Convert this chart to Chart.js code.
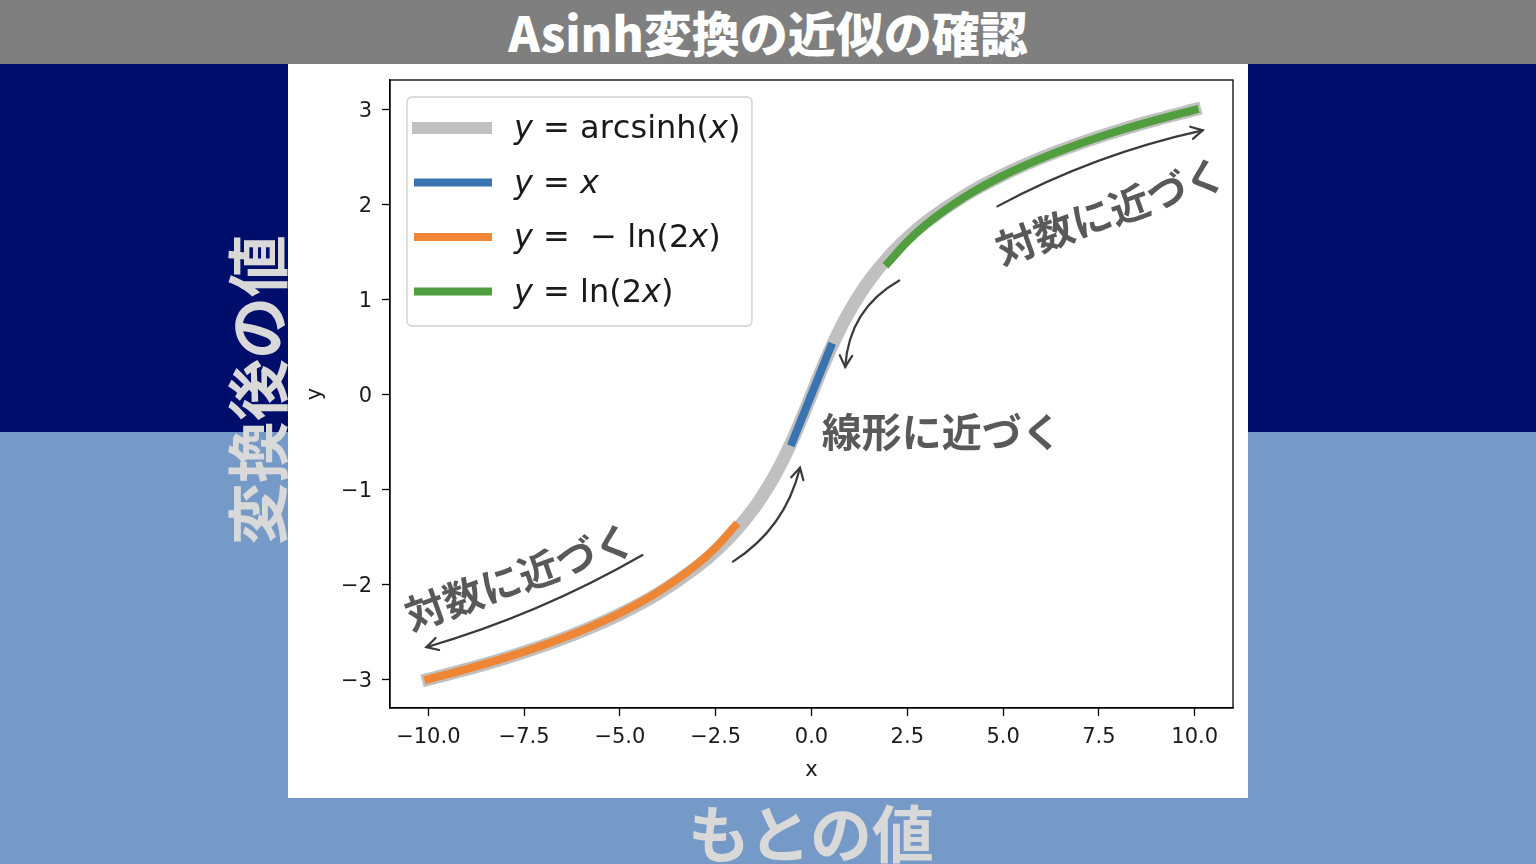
<html>
<head>
<meta charset="utf-8">
<title>Asinh変換の近似の確認</title>
<script src="https://cdn.jsdelivr.net/npm/chart.js@4"></script>
<style>
  body { margin: 0; width: 1536px; height: 864px; overflow: hidden; position: relative; background: #759ac7; font-family: "Noto Sans CJK JP", sans-serif; }
  .top-half { position: absolute; left: 0; top: 64px; width: 1536px; height: 368px; background: #000e6b; }
  .title-bar { position: absolute; left: 0; top: 0; width: 1536px; height: 64px; background: #7f7f7f; color: #fff; font-weight: 900; font-size: 48px; text-align: center; line-height: 62px; }
  .side-label { position: absolute; left: 255px; top: 390px; transform: translate(-50%, -50%) rotate(-90deg); color: #d9d9d9; font-size: 62px; font-weight: 700; white-space: nowrap; line-height: 1; }
  .bottom-label { position: absolute; left: 811px; top: 794px; transform: translateX(-50%); color: #d9d9d9; font-size: 62px; font-weight: 700; white-space: nowrap; line-height: 1.2; }
  .panel { position: absolute; left: 288px; top: 64px; width: 960px; height: 734px; background: #fff; }
</style>
</head>
<body>
  <div class="top-half"></div>
  <div class="title-bar">Asinh変換の近似の確認</div>
  <div class="side-label">変換後の値</div>
  <div class="bottom-label">もとの値</div>
  <div class="panel">
    <canvas id="chart" width="960" height="734"></canvas>
  </div>
<script>
  // y = arcsinh(x)
  const asinhX = [-10, -9, -8, -7, -6, -5, -4, -3, -2.5, -2, -1.5, -1.25, -1, -0.75, -0.5, -0.25, 0,
                  0.25, 0.5, 0.75, 1, 1.25, 1.5, 2, 2.5, 3, 4, 5, 6, 7, 8, 9, 10];
  const asinhY = [-2.998, -2.893, -2.776, -2.644, -2.492, -2.312, -2.095, -1.818, -1.647, -1.444, -1.195, -1.048, -0.881, -0.693, -0.481, -0.247, 0,
                  0.247, 0.481, 0.693, 0.881, 1.048, 1.195, 1.444, 1.647, 1.818, 2.095, 2.312, 2.492, 2.644, 2.776, 2.893, 2.998];

  // y = x
  const linearX = [-0.5, 0.5];
  const linearY = [-0.5, 0.5];

  // y = -ln(2x)
  const negLogX = [-10, -9, -8, -7, -6, -5, -4, -3, -2.5, -2];
  const negLogY = [-2.996, -2.890, -2.773, -2.639, -2.485, -2.303, -2.079, -1.792, -1.609, -1.386];

  // y = ln(2x)
  const posLogX = [2, 2.5, 3, 4, 5, 6, 7, 8, 9, 10];
  const posLogY = [1.386, 1.609, 1.792, 2.079, 2.303, 2.485, 2.639, 2.773, 2.890, 2.996];

  const seriesLabels = ['y = arcsinh(x)', 'y = x', 'y =  − ln(2x)', 'y = ln(2x)'];
  const seriesColors = ['#c0c0c0', '#3a74b0', '#ef8636', '#519e3e'];

  // 注釈 (データ座標)
  const notes = [
    { text: '対数に近づく', x: 7.8, y: 1.93, angle: -19.5, align: 'center' },
    { text: '線形に近づく', x: 0.27, y: -0.39, angle: 0, align: 'left' },
    { text: '対数に近づく', x: -7.62, y: -1.92, angle: -19.5, align: 'center' },
  ];
  const arrows = [
    { from: [4.85, 1.98], to: [10.21, 2.78], rad: 0.07 },
    { from: [2.29, 1.20], to: [0.88, 0.29], rad: -0.27 },
    { from: [-2.05, -1.76], to: [-0.30, -0.77], rad: -0.2 },
    { from: [-4.41, -1.69], to: [-10.05, -2.66], rad: 0.06 },
  ];

  const toPoints = (xs, ys) => xs.map((v, i) => ({ x: v, y: ys[i] }));
  const minus = (s) => String(s).replace('-', '−');

  const drawMath = (ctx, str, x, y, size) => {
    let cx = x;
    for (let i = 0; i < str.length; i++) {
      const ch = str[i];
      const italic = /[xy]/.test(ch) && !/[a-z]/i.test(str[i - 1] || '') && !/[a-z]/i.test(str[i + 1] || '');
      ctx.font = `${italic ? 'italic ' : ''}${size}px "DejaVu Sans"`;
      ctx.fillText(ch, cx, y);
      cx += ctx.measureText(ch).width;
    }
  };

  const decor = {
    id: 'decor',
    afterDraw(chart) {
      const { ctx, chartArea: a, scales } = chart;
      const px = (v) => scales.x.getPixelForValue(v);
      const py = (v) => scales.y.getPixelForValue(v);
      ctx.save();

      // 枠
      ctx.strokeStyle = '#000';
      ctx.lineWidth = 1.3;
      ctx.strokeRect(a.left, a.top, a.right - a.left, a.bottom - a.top);

      // 凡例
      const lx = a.left + 17, ly = a.top + 17;
      ctx.beginPath();
      ctx.roundRect(lx, ly, 345, 229, 5);
      ctx.fillStyle = 'rgba(255,255,255,0.8)';
      ctx.fill();
      ctx.strokeStyle = '#cfcfcf';
      ctx.lineWidth = 1.3;
      ctx.stroke();
      ctx.textBaseline = 'middle';
      seriesLabels.forEach((label, i) => {
        const rowY = ly + 31 + i * 54.5;
        ctx.beginPath();
        ctx.strokeStyle = seriesColors[i];
        ctx.lineWidth = i === 0 ? 12 : 8;
        ctx.lineCap = 'butt';
        ctx.moveTo(lx + (i === 0 ? 5 : 7), rowY);
        ctx.lineTo(lx + 85, rowY);
        ctx.stroke();
        ctx.fillStyle = '#1a1a1a';
        drawMath(ctx, label, lx + 107, rowY + 2, 32);
      });

      // 矢印
      ctx.strokeStyle = '#3a3a3a';
      ctx.lineWidth = 2.2;
      ctx.lineCap = 'round';
      arrows.forEach(ar => {
        const x1 = px(ar.from[0]), y1 = py(ar.from[1]);
        const x2 = px(ar.to[0]), y2 = py(ar.to[1]);
        const dx = x2 - x1, dy = y2 - y1;
        const cx = (x1 + x2) / 2 + ar.rad * dy;
        const cy = (y1 + y2) / 2 - ar.rad * dx;
        ctx.beginPath();
        ctx.moveTo(x1, y1);
        ctx.quadraticCurveTo(cx, cy, x2, y2);
        ctx.stroke();
        const ang = Math.atan2(y2 - cy, x2 - cx);
        const hl = 13, ha = 0.5;
        ctx.beginPath();
        ctx.moveTo(x2 - hl * Math.cos(ang - ha), y2 - hl * Math.sin(ang - ha));
        ctx.lineTo(x2, y2);
        ctx.lineTo(x2 - hl * Math.cos(ang + ha), y2 - hl * Math.sin(ang + ha));
        ctx.stroke();
      });

      // 注釈テキスト
      ctx.fillStyle = '#595959';
      ctx.font = '700 40px "Noto Sans CJK JP"';
      ctx.textBaseline = 'middle';
      notes.forEach(n => {
        ctx.save();
        ctx.translate(px(n.x), py(n.y));
        ctx.rotate(n.angle * Math.PI / 180);
        ctx.textAlign = n.align;
        ctx.fillText(n.text, 0, 0);
        ctx.restore();
      });

      ctx.restore();
    }
  };

  const lineSet = (i, xs, ys, width, order) => ({
    label: seriesLabels[i],
    data: toPoints(xs, ys),
    showLine: true,
    borderColor: seriesColors[i],
    backgroundColor: seriesColors[i],
    borderWidth: width,
    borderCapStyle: 'square',
    pointRadius: 0,
    cubicInterpolationMode: 'monotone',
    order,
  });

  const tickFont = { family: 'DejaVu Sans', size: 21 };
  const noPad = (s) => { s.paddingTop = 0; s.paddingBottom = 0; s.paddingLeft = 0; s.paddingRight = 0; };

  new Chart(document.getElementById('chart'), {
    type: 'scatter',
    data: {
      datasets: [
        lineSet(0, asinhX, asinhY, 13, 1),
        lineSet(1, linearX, linearY, 8, 0),
        lineSet(2, negLogX, negLogY, 8, 0),
        lineSet(3, posLogX, posLogY, 8, 0),
      ]
    },
    options: {
      responsive: false,
      animation: false,
      devicePixelRatio: 1,
      layout: { padding: { top: 16, right: 15, left: 0, bottom: 0 } },
      plugins: { legend: { display: false }, tooltip: { enabled: false } },
      scales: {
        x: {
          type: 'linear', min: -11, max: 11,
          afterFit: (s) => { s.height = 90; noPad(s); },
          border: { color: '#000', width: 1.3 },
          grid: { drawOnChartArea: false, color: '#000', tickLength: 8, tickWidth: 1.3 },
          ticks: { stepSize: 2.5, includeBounds: false, color: '#1a1a1a', font: tickFont, padding: 9,
                   maxRotation: 0, callback: (v) => minus(v.toFixed(1)) },
          title: { display: true, text: 'x', color: '#1a1a1a', font: tickFont, padding: { top: 0, bottom: 15 } },
        },
        y: {
          type: 'linear', min: -3.3, max: 3.31,
          afterFit: (s) => { s.width = 102; noPad(s); },
          border: { color: '#000', width: 1.3 },
          grid: { drawOnChartArea: false, color: '#000', tickLength: 8, tickWidth: 1.3 },
          ticks: { stepSize: 1, includeBounds: false, color: '#1a1a1a', font: tickFont, padding: 10,
                   labelOffset: 2, callback: (v) => minus(v) },
          title: { display: true, text: 'y', color: '#1a1a1a', font: tickFont, padding: { top: 15, bottom: 0 } },
        }
      }
    },
    plugins: [decor]
  });
</script>
</body>
</html>
